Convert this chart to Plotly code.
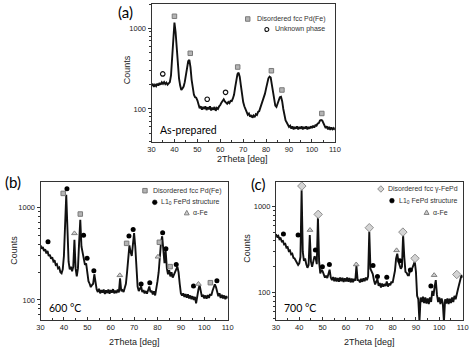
import numpy as np
import plotly.graph_objects as go

W, H = 474, 348

# 2-theta sampling grid of the diffractograms (0.5 deg steps, 30-110 deg)
two_theta = np.linspace(30, 110, 161)

# Measured intensities, one row per 5 deg
counts_as_prepared = [
    195, 205, 188, 200, 192, 206, 195, 210, 200, 214,
    205, 216, 204, 212, 200, 210, 215, 260, 420, 800,
    1180, 900, 520, 330, 240, 195, 172, 180, 190, 215,
    260, 330, 390, 405, 330, 230, 175, 150, 140, 138,
    128, 112, 102, 108, 98, 106, 100, 108, 97, 105,
    99, 108, 96, 104, 98, 106, 95, 103, 100, 108,
    112, 120, 125, 132, 124, 120, 116, 122, 118, 126,
    125, 135, 150, 185, 230, 270, 282, 250, 195, 150,
    122, 108, 96, 92, 85, 88, 80, 84, 78, 83,
    79, 86, 84, 92, 94, 104, 110, 122, 135, 155,
    180, 215, 240, 252, 245, 200, 155, 125, 110, 106,
    115, 128, 140, 142, 125, 100, 82, 72, 68, 64,
    60, 62, 57, 61, 56, 60, 57, 61, 56, 60,
    57, 61, 56, 60, 57, 61, 56, 60, 57, 61,
    58, 62, 59, 63, 62, 66, 67, 72, 73, 72,
    67, 64, 58, 61, 56, 60, 55, 59, 56, 58,
    55,
]

counts_600C = [
    390, 360, 375, 340, 355, 320, 340, 300, 310, 280,
    290, 262, 270, 240, 245, 220, 225, 200, 195, 215,
    300, 700, 1380, 600, 260, 215, 230, 205, 230, 450,
    220, 180, 220, 420, 740, 380, 330, 290, 240, 250,
    195, 160, 150, 138, 145, 150, 190, 145, 130, 122,
    132, 118, 128, 120, 130, 116, 127, 119, 130, 117,
    128, 120, 131, 118, 126, 119, 130, 121, 172, 125,
    128, 122, 135, 150, 200, 300, 390, 330, 300, 400,
    530, 380, 190, 140, 125, 132, 140, 122, 128, 118,
    125, 117, 130, 140, 122, 126, 115, 124, 112, 130,
    160, 200, 300, 420, 490, 300, 250, 340, 220, 190,
    210, 180, 200, 175, 190, 205, 215, 230, 200, 150,
    118, 112, 118, 108, 116, 106, 115, 104, 112, 102,
    110, 100, 108, 92, 112, 130, 145, 118, 108, 114,
    104, 112, 103, 113, 105, 116, 112, 125, 135, 148,
    138, 120, 110, 118, 105, 114, 104, 112, 102, 110,
    104,
]

counts_700C = [
    480, 450, 460, 420, 430, 395, 400, 365, 370, 335,
    340, 305, 310, 280, 285, 255, 250, 232, 225, 210,
    220, 260, 1550, 300, 235, 250, 215, 195, 210, 470,
    230, 200, 230, 265, 255, 215, 760, 230, 168, 185,
    178, 160, 150, 158, 148, 165, 185, 150, 140, 152,
    136, 150, 135, 148, 134, 150, 136, 149, 133, 147,
    135, 150, 134, 148, 132, 146, 133, 145, 138, 205,
    140, 140, 132, 145, 134, 147, 136, 150, 140, 155,
    515, 190, 180, 165, 140, 125, 135, 145, 120, 130,
    115, 128, 118, 126, 120, 135, 118, 128, 122, 135,
    130, 150, 180, 250, 285, 230, 210, 190, 200, 470,
    260, 175, 170, 160, 160, 190, 180, 195, 215, 230,
    175, 92, 84, 46, 88, 78, 90, 76, 88, 75,
    86, 74, 88, 78, 105, 92, 118, 140, 95, 78,
    88, 74, 86, 76, 46, 84, 75, 86, 74, 85,
    76, 88, 78, 92, 84, 100, 110, 125, 140, 160,
    150,
]

# Phase markers (peak position, marker height)
a_fcc_x = [40.0, 46.9, 67.6, 82.3, 86.9, 104.3]
a_fcc_y = [1409, 490, 331, 298, 172, 88]
a_unk_x = [34.9, 54.3, 62.3]
a_unk_y = [272, 132, 161]

b_fcc_x = [39.7, 47.0, 66.8, 80.8, 85.4, 102.6]
b_fcc_y = [1429, 854, 411, 422, 230, 154]
b_l10_x = [33.2, 41.3, 48.4, 49.9, 52.8, 67.8, 69.6, 73.0, 76.7, 82.2, 83.6, 88.0, 95.4, 105.4]
b_l10_y = [428, 1607, 502, 283, 207, 493, 582, 149, 154, 537, 360, 242, 142, 162]
b_fe_x = [44.5, 63.9, 80.2, 97.5]
b_fe_y = [527, 185, 294, 149]

c_fcc_x = [41.1, 48.1, 70.0, 84.4, 89.6, 107.5]
c_fcc_y = [1740, 815, 570, 507, 251, 163]
c_l10_x = [33.2, 39.5, 46.9, 49.9, 52.9, 71.6, 73.5, 77.5, 83.1, 87.6, 96.4]
c_l10_y = [481, 469, 314, 200, 213, 208, 154, 151, 235, 184, 120]
c_fe_x = [44.6, 64.4, 81.7, 97.8]
c_fe_y = [536, 213, 311, 160]

x_ticks = [30, 40, 50, 60, 70, 80, 90, 100, 110]
x_minor = [35, 45, 55, 65, 75, 85, 95, 105]
y_ticks = [100, 1000]
y_minor = [40, 50, 60, 70, 80, 90, 200, 300, 400, 500, 600, 700, 800, 900, 2000]

# Marker styles
SQUARE = dict(symbol="square", size=4.5, color="#b4b4b4", line=dict(color="#7a7a7a", width=1))
DOT = dict(symbol="circle", size=5, color="#000000", line=dict(width=0))
RING = dict(symbol="circle", size=4.5, color="#ffffff", line=dict(color="#111111", width=1.2))
TRI = dict(symbol="triangle-up", size=5, color="#cfcfcf", line=dict(color="#808080", width=1))
DIAM = dict(symbol="diamond", size=6.5, color="#d4d4d4", line=dict(color="#8f8f8f", width=1))

AX = "#333333"
TICKFONT = dict(family="Liberation Sans, Arial, sans-serif", size=7.5, color="#222222")
LABFONT = dict(family="Liberation Sans, Arial, sans-serif", size=9, color="#222222")
LEGFONT = dict(family="Liberation Sans, Arial, sans-serif", size=7, color="#333333")
BIGFONT = dict(family="Lato, sans-serif", size=15, color="#000000")
TAGFONT = dict(family="Lato, sans-serif", size=10.5, color="#000000")


def fx(px):
    return px / W


def fy(py):
    return 1 - py / H


panels = {
    "a": dict(x=(150.7, 338.0), y=(4.0, 142.0), yr=[1.591, 3.301], xa="x", ya="y"),
    "b": dict(x=(37.3, 228.5), y=(181.7, 320.0), yr=[1.783, 3.282], xa="x2", ya="y2"),
    "c": dict(x=(277.8, 468.5), y=(181.7, 320.0), yr=[1.683, 3.291], xa="x3", ya="y3"),
}

fig = go.Figure()

spectra = {"a": counts_as_prepared, "b": counts_600C, "c": counts_700C}
for key, counts in spectra.items():
    p = panels[key]
    fig.add_trace(go.Scatter(x=two_theta, y=counts, mode="lines",
                             line=dict(color="#111111", width=1.9),
                             xaxis=p["xa"], yaxis=p["ya"], hoverinfo="skip"))

markers = [
    ("a", a_fcc_x, a_fcc_y, SQUARE), ("a", a_unk_x, a_unk_y, RING),
    ("b", b_fcc_x, b_fcc_y, SQUARE), ("b", b_l10_x, b_l10_y, DOT), ("b", b_fe_x, b_fe_y, TRI),
    ("c", c_fcc_x, c_fcc_y, DIAM), ("c", c_l10_x, c_l10_y, DOT), ("c", c_fe_x, c_fe_y, TRI),
]
for key, xs, ys, style in markers:
    p = panels[key]
    fig.add_trace(go.Scatter(x=xs, y=ys, mode="markers", marker=style,
                             xaxis=p["xa"], yaxis=p["ya"], cliponaxis=False))

layout = dict(width=W, height=H, margin=dict(l=0, r=0, t=0, b=0),
              paper_bgcolor="white", plot_bgcolor="white", showlegend=False)

for i, (key, p) in enumerate(panels.items()):
    sfx = "" if i == 0 else str(i + 1)
    layout["xaxis" + sfx] = dict(
        domain=[fx(p["x"][0]), fx(p["x"][1])], anchor="y" + sfx, range=[30, 110],
        tickmode="array", tickvals=x_ticks, ticks="inside", ticklen=3, tickwidth=1,
        tickcolor=AX, showline=True, linecolor=AX, linewidth=1, mirror=True,
        showgrid=False, zeroline=False, tickfont=TICKFONT,
        minor=dict(tickmode="array", tickvals=x_minor, ticks="inside", ticklen=2,
                   tickcolor=AX, showgrid=False),
    )
    layout["yaxis" + sfx] = dict(
        domain=[fy(p["y"][1]), fy(p["y"][0])], anchor="x" + sfx, type="log", range=p["yr"],
        tickmode="array", tickvals=y_ticks, ticktext=["100", "1000"], ticks="outside",
        ticklen=3, tickwidth=1, tickcolor=AX, showline=True, linecolor=AX, linewidth=1,
        mirror=True, showgrid=False, zeroline=False, tickfont=TICKFONT,
        minor=dict(tickmode="array", tickvals=y_minor, ticks="outside", ticklen=2,
                   tickcolor=AX, showgrid=False),
    )

fig.update_layout(**layout)

annotations = []


def text(px, py, s, font, xanchor="center", angle=0):
    annotations.append(dict(x=fx(px), y=fy(py), xref="paper", yref="paper", text=s,
                            showarrow=False, font=font, xanchor=xanchor, yanchor="middle",
                            textangle=angle))


# Panel letters
text(124, 12, "(a)", BIGFONT)
text(9, 182, "(b)", BIGFONT)
text(259, 184, "(c)", BIGFONT)

# Sample tags
text(157, 130, "As-prepared", TAGFONT, xanchor="left")
text(44, 308, "600 °C", TAGFONT, xanchor="left")
text(284, 308, "700 °C", TAGFONT, xanchor="left")

# Axis titles
text(244, 159, "2Theta [deg]", LABFONT)
text(133, 342, "2Theta [deg]", LABFONT)
text(373, 342, "2Theta [deg]", LABFONT)
text(126, 70, "Counts", LABFONT, angle=-90)
text(10, 250, "Counts", LABFONT, angle=-90)
text(248, 248, "Counts", LABFONT, angle=-90)

# Legend labels
text(256, 19, "Disordered fcc Pd(Fe)", LEGFONT, xanchor="left")
text(275, 29.5, "Unknown phase", LEGFONT, xanchor="left")
text(150, 190.7, "Disordered fcc Pd(Fe)", LEGFONT, xanchor="left")
text(158.5, 202, "L1<sub>0</sub> FePd structure", LEGFONT, xanchor="left")
text(191, 212.5, "α-Fe", LEGFONT, xanchor="left")
text(390, 189, "Disordered fcc γ-FePd", LEGFONT, xanchor="left")
text(401, 200.5, "L1<sub>0</sub> FePd structure", LEGFONT, xanchor="left")
text(436, 212, "α-Fe", LEGFONT, xanchor="left")

fig.update_layout(annotations=annotations)

# Legend keys
shapes = []


def rect_key(cx, cy, s, fill, line):
    shapes.append(dict(type="rect", xref="paper", yref="paper",
                       x0=fx(cx - s / 2), x1=fx(cx + s / 2), y0=fy(cy + s / 2), y1=fy(cy - s / 2),
                       fillcolor=fill, line=dict(color=line, width=1)))


def circle_key(cx, cy, r, fill, line, lw):
    shapes.append(dict(type="circle", xref="paper", yref="paper",
                       x0=fx(cx - r), x1=fx(cx + r), y0=fy(cy + r), y1=fy(cy - r),
                       fillcolor=fill, line=dict(color=line, width=lw)))


def poly_key(pts, fill, line):
    path = "M" + " L".join(f"{fx(x):.5f},{fy(y):.5f}" for x, y in pts) + " Z"
    shapes.append(dict(type="path", xref="paper", yref="paper", path=path,
                       fillcolor=fill, line=dict(color=line, width=1)))


def tri_key(cx, cy, s):
    poly_key([(cx - s / 2, cy + s * 0.43), (cx + s / 2, cy + s * 0.43), (cx, cy - s * 0.47)],
             "#cfcfcf", "#808080")


def diam_key(cx, cy, s):
    poly_key([(cx, cy - s / 2), (cx + s / 2, cy), (cx, cy + s / 2), (cx - s / 2, cy)],
             "#d4d4d4", "#8f8f8f")


rect_key(249, 19, 4.5, "#b4b4b4", "#7a7a7a")
circle_key(268.5, 29.5, 2.0, "#ffffff", "#111111", 1.1)
rect_key(144, 190.7, 4.5, "#b4b4b4", "#7a7a7a")
circle_key(154, 202.3, 2.4, "#000000", "#000000", 0.5)
tri_key(186.7, 212.7, 5)
diam_key(385, 189, 6.5)
circle_key(396.3, 200.7, 2.4, "#000000", "#000000", 0.5)
tri_key(431.7, 212.3, 5)

fig.update_layout(shapes=shapes)

fig.write_html("out.html")
